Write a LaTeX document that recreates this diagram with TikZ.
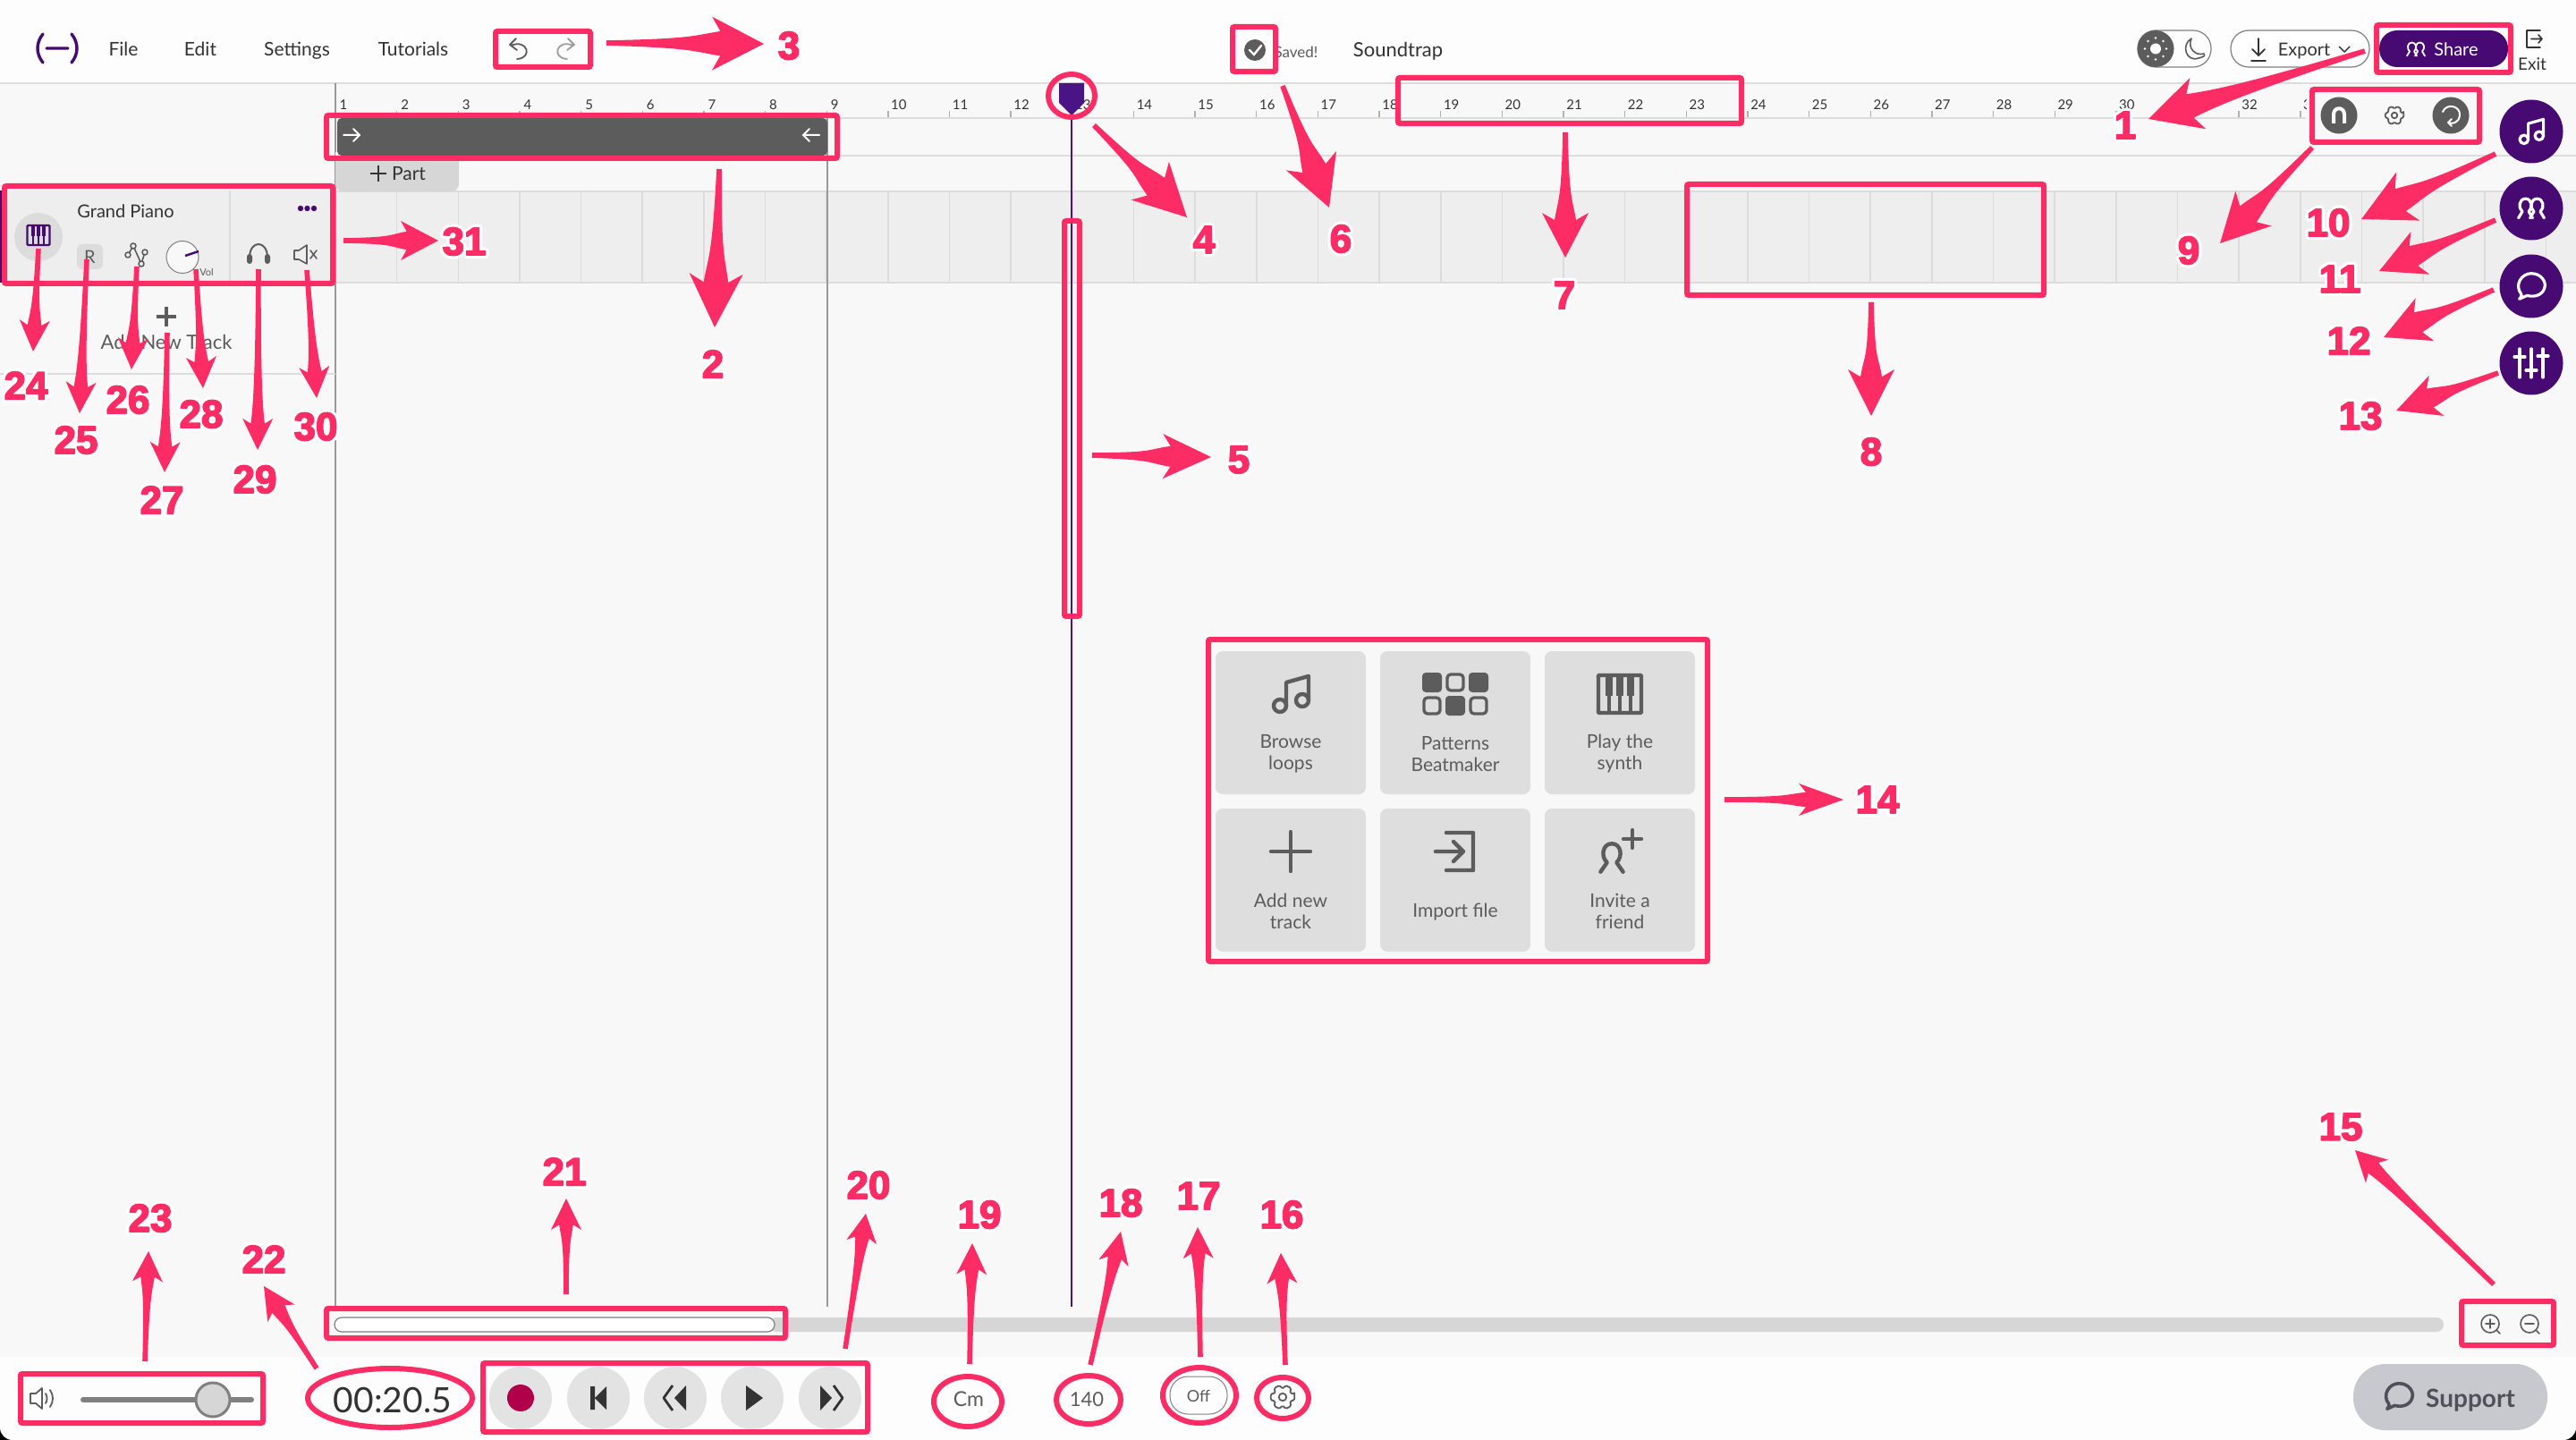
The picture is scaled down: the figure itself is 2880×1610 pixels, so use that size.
\documentclass[tikz,border=0pt]{standalone}
\usepackage{fontspec}
\setmainfont{Lato}
\newfontfamily\numfont{Liberation Sans}
\usetikzlibrary{calc}

\definecolor{markpink}{HTML}{FE2C64}
\definecolor{uigrey}{HTML}{5C5C5C}
\definecolor{uidark}{HTML}{333333}
\definecolor{uipurple}{HTML}{470A73}
\definecolor{headcol}{HTML}{4A1486}
\definecolor{barbg}{HTML}{FDFDFD}
\definecolor{mainbg}{HTML}{F8F8F8}
\definecolor{trackbg}{HTML}{EEEEEE}
\definecolor{gridcol}{HTML}{DCDCDC}
\definecolor{tilebg}{HTML}{DEDEDE}
\definecolor{trackbar}{HTML}{D6D6D6}
\definecolor{reccol}{HTML}{B0004A}
\definecolor{supportbg}{HTML}{C8C9CE}
\definecolor{supportink}{HTML}{4F5158}

\tikzset{
	markbox/.style={draw=markpink,line width=3pt,rounded corners=1pt},
	markoval/.style={draw=markpink,line width=3pt},
	uitext/.style={inner sep=0pt,text=uidark,text height=.72em,text depth=0pt,font=\fontsize{10.5}{12}\selectfont},
	tinytext/.style={inner sep=0pt,text=uidark,text height=.72em,text depth=0pt,font=\fontsize{7.5}{8}\selectfont},
	tiletext/.style={inner sep=0pt,text=uigrey,align=center,font=\fontsize{10.5}{12}\selectfont},
	numtext/.style={inner sep=0pt,text=markpink,font=\numfont\bfseries\fontsize{22}{24}\selectfont},
	tile/.style={fill=tilebg,rounded corners=4pt,minimum width=84pt,minimum height=80pt,inner sep=0pt},
	ico/.style={draw=uigrey,line width=2.2pt,line cap=round,line join=round},
	whiteico/.style={draw=white,line width=1.6pt,line cap=round,line join=round},
	roundbtn/.style={circle,fill=uipurple,minimum size=35.5pt,inner sep=0pt},
	playbtn/.style={circle,fill=tilebg!85!white,minimum size=35pt,inner sep=0pt},
}

% big tapered arrow with its number
\newcommand{\callout}[6]{
	\coordinate (t#1) at #2;
	\coordinate (h#1) at #3;
	\fill[markpink] ($(t#1)!1.4pt!90:(h#1)$)
		.. controls ($(t#1)!.55!(h#1)!.17*#5!90:(h#1)$) and ($(h#1)!1.35*#4!(t#1)!.3*#5!-90:(t#1)$) .. ($(h#1)!.84*#4!(t#1)!.46*#5!-90:(t#1)$)
		-- ($(h#1)!#4!(t#1)!#5!-90:(t#1)$) -- (h#1) -- ($(h#1)!#4!(t#1)!#5!90:(t#1)$) -- ($(h#1)!.84*#4!(t#1)!.46*#5!90:(t#1)$)
		.. controls ($(h#1)!1.35*#4!(t#1)!.3*#5!90:(t#1)$) and ($(t#1)!.55!(h#1)!.17*#5!-90:(h#1)$) .. ($(t#1)!1.4pt!-90:(h#1)$) -- cycle;
	\draw #6 node (num#1) [numtext] {\rlap{\textcolor{white}{\special{pdf:code 2 Tr 4 w 1 j}#1\special{pdf:code 0 Tr}}}\special{pdf:code 2 Tr 0.8 w 1 j}#1\special{pdf:code 0 Tr}};
}
\newcommand{\noteicon}[3]{
	\begin{scope}[shift={#1},scale=#2]
		\draw[#3] (-12,13) circle (7) (13,7) circle (7);
		\draw[#3] (-5,13) -- (-5,-13) -- (20,-20) -- (20,7);
	\end{scope}
}
\newcommand{\pianoicon}[3]{
	\begin{scope}[shift={#1},scale=#2]
		\draw[line width=#2*2.2pt,draw=#3,rounded corners=0.5pt] (-24,-21) rectangle (24,21);
		\foreach \kx in {-12,0,12}{
			\fill[#3] (\kx-4,-21) rectangle (\kx+4,2);
			\draw[line width=#2*2pt,draw=#3] (\kx,0) -- (\kx,21);
		}
	\end{scope}
}
\newcommand{\gearicon}[3]{
	\begin{scope}[shift={#1},scale=#2]
		\draw[#3,rounded corners=0.7pt] (-14:21) \foreach \ga in {0,60,...,300}{ -- (\ga-14:21) -- (\ga+14:21) -- (\ga+30:14.5)} -- cycle;
		\draw[#3] (0,0) circle (6.5);
	\end{scope}
}
\newcommand{\peopleicon}[3]{
	\begin{scope}[shift={#1},scale=#2]
		\foreach \px in {-9,9}{
			\draw[#3] (\px-11,15) -- (\px-5,5) .. controls (\px-12,-1) and (\px-10,-15) .. (\px,-15) .. controls (\px+10,-15) and (\px+12,-1) .. (\px+5,5) -- (\px+11,15);
		}
	\end{scope}
}
\newcommand{\bubbleicon}[3]{
	\begin{scope}[shift={#1},scale=#2]
		\draw[#3] (-14,15) .. controls (-11,11) .. (-12,9) .. controls (-20,-1) and (-12,-15) .. (0,-15) .. controls (12,-15) and (17,-5) .. (16,0) .. controls (15,8) and (7,14) .. (-5,11) -- cycle;
	\end{scope}
}

\begin{document}
\begin{tikzpicture}[x=0.5pt,y=0.5pt,yscale=-1,xscale=1]
	\useasboundingbox (0,0) rectangle (2880,1610);
	% window
	\fill[black] (0,1580) rectangle (30,1610);
	\fill[black] (2850,1580) rectangle (2880,1610);
	\fill[barbg,rounded corners=7pt] (0,0) rectangle (2880,1610);
	\fill[barbg] (0,0) rectangle (2880,100);
	\fill[mainbg] (0,93) rectangle (2880,1517);
	\draw[gridcol,line width=1pt] (0,93) -- (2880,93);
	% track lane and bar lines
	\fill[trackbg] (375,214) rectangle (2880,316);
	\draw[gridcol,line width=0.8pt] (375,214) -- (2880,214) (375,316) -- (2880,316);
	\foreach \n in {1,...,37}{
		\pgfmathsetmacro{\gx}{375+(\n-1)*68.65}
		\draw[gridcol,line width=0.8pt] (\gx,214) -- (\gx,316);
	}
	% ruler
	\begin{scope}
		\clip (370,94) rectangle (2578,134);
		\foreach \n in {1,...,33}{
			\pgfmathsetmacro{\gx}{375+(\n-1)*68.65}
			\pgfmathsetmacro{\lx}{\gx+(\n<10 ? 9 : 12)}
			\draw[gridcol!80!black,line width=0.7pt] (\gx,124) -- (\gx,132);
			\draw (\lx,115) node (bar\n) [tinytext] {\n};
		}
	\end{scope}
	\draw[gridcol,line width=1pt] (375,132) -- (2578,132);
	\draw[gridcol,line width=1pt] (375,174) -- (2880,174);
	\draw[gray!80,line width=0.8pt] (375,93) -- (375,1461);
	\draw[gray!80,line width=0.8pt] (925,132) -- (925,1461);
	% loop bar and part tab
	\fill[trackbar,rounded corners=4pt] (375,170) rectangle (513,214);
	\fill[mainbg] (375,170) rectangle (513,174);
	\fill[uigrey,rounded corners=2.5pt] (377,132) rectangle (925,174);
	\draw[white,line width=1pt,line cap=round] (384,151) -- (402,151) (395,144) -- (402,151) -- (395,158);
	\draw[white,line width=1pt,line cap=round] (916,151) -- (898,151) (905,144) -- (898,151) -- (905,158);
	\draw[uidark,line width=1pt] (414,194) -- (432,194) (423,185) -- (423,203);
	\draw (457,194) node (parttxt) [uitext] {Part};
	% top bar
	\draw[uipurple,line width=1.7pt,line cap=round] (48,38) .. controls (40,48) and (40,60) .. (48,70) (80,38) .. controls (88,48) and (88,60) .. (80,70) (52,54) -- (76,54);
	\draw (138,55) node (fileitem) [uitext] {File};
	\draw (224,55) node (edititem) [uitext] {Edit};
	\draw (332,55) node (settingsitem) [uitext] {Settings};
	\draw (462,55) node (tutorialsitem) [uitext] {Tutorials};
	\draw[ico,line width=0.9pt] (571,51) .. controls (590,43) and (596,65) .. (578,66) (577,43) -- (570,50) -- (578,56);
	\draw[ico,line width=0.9pt,uigrey!60] (641,51) .. controls (622,43) and (616,65) .. (634,66) (635,43) -- (642,50) -- (634,56);
	\fill[uigrey] (1403,56) circle (12);
	\draw[white,line width=1.2pt,line cap=round] (1397,56) -- (1402,61) -- (1410,51);
	\draw (1449,57) node (savedtxt) [tinytext,text=uigrey,font=\fontsize{8.5}{10}\selectfont] {Saved!};
	\draw (1563,56) node (apptitle) [uitext,font=\fontsize{11}{12}\selectfont] {Soundtrap};
	% theme toggle
	\draw[gray,line width=0.6pt,fill=barbg,rounded corners=10pt] (2390,34) rectangle (2472,75);
	\fill[uigrey] (2410,54.5) circle (20.5);
	\fill[white] (2410,54.5) circle (6);
	\foreach \a in {0,45,...,315}{\fill[white] ($(2410,54.5)+(\a:12)$) circle (1.4);}
	\draw[ico,line width=0.8pt] (2450,43) .. controls (2438,50) and (2444,70) .. (2458,65) .. controls (2465,63) .. (2464,60) .. controls (2455,63) and (2445,54) .. (2450,43) -- cycle;
	% export and share
	\draw[gray,line width=0.6pt,fill=white,rounded corners=10pt] (2494,34) rectangle (2649,75);
	\draw[uidark,line width=0.9pt,line cap=round] (2525,43) -- (2525,62) (2518,55) -- (2525,62) -- (2532,55) (2517,68) -- (2533,68);
	\draw (2576,55) node (exporttxt) [uitext,font=\fontsize{10}{12}\selectfont] {Export};
	\draw[uidark,line width=0.7pt] (2615,52) -- (2621,58) -- (2627,52);
	\fill[uipurple,rounded corners=10pt] (2660,34) rectangle (2804,75);
	\peopleicon{(2701,55)}{0.5}{whiteico,line width=0.9pt}
	\draw (2746,55) node (sharetxt) [uitext,text=white,font=\fontsize{10}{12}\selectfont] {Share};
	\draw[ico,line width=0.8pt,uidark] (2840,34) -- (2825,34) -- (2825,53) -- (2840,53) (2830,43.5) -- (2842,43.5) (2838,39) -- (2842,43.5) -- (2838,48);
	\draw (2831,71) node (exittxt) [uitext,font=\fontsize{9.5}{11}\selectfont] {Exit};
	% snap panel
	\fill[uigrey] (2615,129) circle (20.5);
	\draw[whiteico,line width=2pt,line cap=butt] (2609,138) -- (2609,128) .. controls (2609,119) and (2621,119) .. (2621,128) -- (2621,138);
	\gearicon{(2677,129)}{0.5}{ico,line width=0.9pt}
	\fill[uigrey] (2740,129) circle (20.5);
	\draw[whiteico,line width=1pt] (2731,125) .. controls (2735,115) and (2751,118) .. (2750,129) .. controls (2749,138) and (2741,139) .. (2737,137) (2741,133) -- (2737,137) -- (2741,141);
	% side buttons
	\node (loopsbtn) [roundbtn] at (2830,147) {};
	\node (peoplebtn) [roundbtn] at (2830,233) {};
	\node (chatbtn) [roundbtn] at (2830,320) {};
	\node (mixbtn) [roundbtn] at (2830,406) {};
	\noteicon{(loopsbtn)}{0.68}{whiteico}
	\peopleicon{(peoplebtn)}{0.72}{whiteico}
	\bubbleicon{(chatbtn)}{0.95}{whiteico}
	\draw[whiteico] (2817,390) -- (2817,422) (2830,390) -- (2830,422) (2843,390) -- (2843,422) (2811,399) -- (2823,399) (2824,414) -- (2836,414) (2837,398) -- (2849,398);
	% track header
	\fill[uipurple] (0,213) rectangle (2,316);
	\fill[trackbg] (3,213) rectangle (372,316);
	\draw[gridcol,line width=0.8pt] (257,213) -- (257,316);
	\fill[gridcol] (43,265) circle (27);
	\pianoicon{(43,263)}{0.52}{uipurple}
	\draw (140.5,236) node (trackname) [uitext,font=\fontsize{10}{11}\selectfont] {Grand Piano};
	\fill[uipurple] (336,233) circle (3.2) (343.5,233) circle (3.2) (351,233) circle (3.2);
	\fill[gridcol,rounded corners=3pt] (86,273) rectangle (115,301);
	\draw (100.5,287) node (recbtn) [uitext,text=uigrey,font=\fontsize{10}{11}\selectfont] {R};
	\draw[ico,line width=0.8pt] (143,285) -- (149,275) -- (158,295) -- (162,282);
	\foreach \ax/\ay in {143/285,149/275,158/295,162/282}{\draw[ico,line width=0.8pt,fill=trackbg] (\ax,\ay) circle (3);}
	\draw[gray,line width=0.5pt,fill=mainbg] (204,287.5) circle (18);
	\draw[uipurple,line width=1.2pt] (207,286) -- (222,281);
	\draw (231,301) node (voltxt) [tinytext,text=uigrey,font=\fontsize{5.5}{6}\selectfont] {Vol};
	\draw[ico,line width=1pt] (279,288) .. controls (279,268) and (299,268) .. (299,288);
	\fill[uigrey,rounded corners=1.5pt] (276,284) rectangle (282,295) (296,284) rectangle (302,295);
	\draw[ico,line width=0.8pt] (329,280) -- (334,280) -- (343,274) -- (343,295) -- (334,290) -- (329,290) -- cycle;
	\draw[ico,line width=0.8pt] (347,280) -- (354,289) (354,280) -- (347,289);
	\draw[uigrey,line width=2.4pt] (175,354) -- (197,354) (186,343) -- (186,365);
	\draw (186,383) node (addtrack) [uitext,text=uigrey,font=\fontsize{11}{13}\selectfont] {Add New Track};
	\draw[gridcol,line width=0.8pt] (0,418) -- (375,418);
	% start tiles
	\node (tbrowse) [tile] at (1443,808) {};
	\node (tpatterns) [tile] at (1627,808) {};
	\node (tsynth) [tile] at (1811,808) {};
	\node (tadd) [tile] at (1443,984) {};
	\node (timport) [tile] at (1627,984) {};
	\node (tinvite) [tile] at (1811,984) {};
	\draw (1443,843) node (browsetxt) [tiletext] {Browse\\loops};
	\draw (1627,843) node (patternstxt) [tiletext] {Patterns\\Beatmaker};
	\draw (1811,843) node (synthtxt) [tiletext] {Play the\\synth};
	\draw (1443,1019) node (addtxt) [tiletext] {Add new\\track};
	\draw (1627,1020) node (importtxt) [tiletext] {Import file};
	\draw (1811,1019) node (invitetxt) [tiletext] {Invite a\\friend};
	\noteicon{(1443,776)}{1}{ico}
	\foreach \qx/\qy/\qf in {1590/752/1,1616/752/0,1642/752/1,1590/778/0,1616/778/1,1642/778/0}{
		\ifnum\qf=1
			\fill[uigrey,rounded corners=2pt] (\qx,\qy) rectangle ++(22,22);
		\else
			\draw[ico,rounded corners=2pt,line width=1.7pt] (\qx+2,\qy+2) rectangle ++(18,18);
		\fi
	}
	\pianoicon{(1811,776)}{1}{uigrey}
	\draw[ico] (1421,952) -- (1465,952) (1443,930) -- (1443,974);
	\draw[ico] (1605,952) -- (1636,952) (1625,941) -- (1636,952) -- (1625,963) (1617,931) -- (1647,931) -- (1647,973) -- (1617,973);
	\begin{scope}[shift={(1802,959)},scale=1.05]
		\draw[ico] (-12,15) -- (-5,5) .. controls (-12,-1) and (-10,-15) .. (0,-15) .. controls (10,-15) and (12,-1) .. (5,5) -- (12,15);
	\end{scope}
	\draw[ico] (1815,938) -- (1835,938) (1825,928) -- (1825,948);
	% playhead
	\draw[headcol,line width=1.4pt] (1198,129) -- (1198,1461);
	\fill[headcol] (1184,93) -- (1212,93) -- (1212,115) -- (1198,129) -- (1184,115) -- cycle;
	% transport
	\draw[ico,line width=0.9pt,fill=none] (34,1558) -- (40,1558) -- (47,1552) -- (47,1575) -- (40,1569) -- (34,1569) -- cycle (51,1558) .. controls (53,1561) and (53,1566) .. (51,1569) (56,1554) .. controls (60,1560) and (60,1567) .. (56,1573);
	\draw[gray,line width=3pt,line cap=round] (93,1565) -- (281,1565);
	\draw[gray,line width=1.5pt,fill=trackbar] (238,1565) circle (19);
	\draw (439,1565) node (timetxt) [inner sep=0pt,text=uidark,text height=14pt,text depth=0pt,font=\fontsize{19.5}{22}\selectfont] {00:20.5};
	\node (recb) [playbtn] at (582,1563) {};
	\node (startb) [playbtn] at (669,1563) {};
	\node (rewb) [playbtn] at (755,1563) {};
	\node (playb) [playbtn] at (841,1563) {};
	\node (fwdb) [playbtn] at (928,1563) {};
	\fill[reccol] (582,1563) circle (15);
	\fill[uidark] (660,1550) rectangle (665,1576) (678,1550) -- (665,1563) -- (678,1576) -- cycle;
	\draw[uidark,line width=1.4pt,line join=round] (752,1549) -- (742,1563) -- (752,1577);
	\fill[uidark] (767,1549) -- (767,1577) -- (754,1563) -- cycle;
	\fill[uidark] (834,1549) -- (853,1563) -- (834,1577) -- cycle;
	\fill[uidark] (917,1549) -- (930,1563) -- (917,1577) -- cycle;
	\draw[uidark,line width=1.4pt,line join=round] (932,1549) -- (942,1563) -- (932,1577);
	\draw (1083,1565) node (keytxt) [uitext,text=uigrey,font=\fontsize{11.5}{12}\selectfont] {Cm};
	\draw (1215,1565) node (tempotxt) [uitext,text=uigrey,font=\fontsize{11}{12}\selectfont] {140};
	\draw[gray,line width=0.5pt,rounded corners=10pt] (1308,1539) rectangle (1372,1581);
	\draw (1340,1560) node (offtxt) [uitext,text=uigrey,font=\fontsize{9}{10}\selectfont] {Off};
	\gearicon{(1434,1562)}{0.65}{ico,line width=0.9pt}
	% scroll bar and zoom
	\fill[trackbar,rounded corners=4pt] (860,1473) rectangle (2732,1489);
	\draw[gray,line width=0.6pt,fill=white,rounded corners=4pt] (374,1473) rectangle (866,1489);
	\draw[ico,line width=0.8pt] (2784,1480) circle (10) (2779,1480) -- (2789,1480) (2784,1475) -- (2784,1485) (2791,1487) -- (2795,1491);
	\draw[ico,line width=0.8pt] (2828,1480) circle (10) (2823,1480) -- (2833,1480) (2835,1487) -- (2839,1491);
	\fill[supportbg,rounded corners=18pt] (2631,1525) rectangle (2848,1599);
	\bubbleicon{(2682,1561)}{0.95}{ico,line width=1.8pt,draw=supportink}
	\draw (2762,1563) node (supporttxt) [inner sep=0pt,text=supportink,text height=10pt,text depth=0pt,font=\fontsize{14}{16}\selectfont\bfseries] {Support};
	% pink boxes
	\draw[markbox] (554,35) rectangle (660,75);
	\draw[markbox] (365,129) rectangle (936,177);
	\draw[markbox] (5,208) rectangle (372,317);
	\draw[markbox] (1378,30) rectangle (1426,80);
	\draw[markbox] (1563,87) rectangle (1947,138);
	\draw[markbox] (1886,206) rectangle (2285,330);
	\draw[markbox] (2657,28) rectangle (2807,81);
	\draw[markbox] (2585,100) rectangle (2772,159);
	\draw[markbox] (1190,247) rectangle (1207,689);
	\draw[markbox] (1351,715) rectangle (1909,1075);
	\draw[markbox] (23,1536) rectangle (294,1591);
	\draw[markbox] (540,1524) rectangle (970,1601);
	\draw[markbox] (365,1463) rectangle (878,1496);
	\draw[markbox] (2752,1455) rectangle (2855,1504);
	\draw[markoval] (1198,107) ellipse (26 and 24);
	\draw[markoval] (436,1563) ellipse (92 and 33);
	\draw[markoval] (1082,1567) ellipse (38 and 28);
	\draw[markoval] (1217,1565) ellipse (36 and 27);
	\draw[markoval] (1341,1560) ellipse (41 and 31);
	\draw[markoval] (1434,1563) ellipse (29 and 23);
	% arrows and numbers
	\callout{1}{(2644,57)}{(2402,133)}{29pt}{15pt}{(2376,140)}
	\callout{2}{(804,189)}{(799,366)}{30pt}{15pt}{(797,407)}
	\callout{3}{(678,48)}{(854,49)}{29pt}{15pt}{(882,51)}
	\callout{4}{(1223,140)}{(1327,243)}{29pt}{15pt}{(1346,268)}
	\callout{5}{(1221,509)}{(1354,511)}{27pt}{12.5pt}{(1385,514)}
	\callout{6}{(1434,96)}{(1486,232)}{28pt}{15pt}{(1499,267)}
	\callout{7}{(1750,148)}{(1750,288)}{25pt}{13pt}{(1749,330)}
	\callout{8}{(2092,338)}{(2092,465)}{26pt}{13pt}{(2092,505)}
	\callout{9}{(2585,165)}{(2482,272)}{27pt}{14pt}{(2447,280)}
	\callout{10}{(2790,172)}{(2640,245)}{29pt}{15pt}{(2603,249)}
	\callout{11}{(2790,246)}{(2660,303)}{25pt}{13pt}{(2616,312)}
	\callout{12}{(2788,324)}{(2665,377)}{25pt}{13pt}{(2626,381)}
	\callout{13}{(2793,417)}{(2679,459)}{24pt}{12pt}{(2639,465)}
	\callout{14}{(1928,894)}{(2061,894)}{25pt}{9pt}{(2099,894)}
	\callout{15}{(2788,1436)}{(2633,1286)}{17pt}{9pt}{(2617,1260)}
	\callout{16}{(1437,1526)}{(1432,1401)}{17pt}{8.5pt}{(1433,1358)}
	\callout{17}{(1342,1517)}{(1339,1372)}{17.5pt}{8.5pt}{(1340,1337)}
	\callout{18}{(1219,1526)}{(1253,1377)}{18pt}{8.5pt}{(1253,1345)}
	\callout{19}{(1084,1525)}{(1087,1390)}{17.5pt}{8.5pt}{(1095,1358)}
	\callout{20}{(945,1508)}{(968,1357)}{16pt}{8.5pt}{(971,1325)}
	\callout{21}{(633,1447)}{(633,1340)}{17.5pt}{8.5pt}{(631,1310)}
	\callout{22}{(354,1530)}{(295,1438)}{18pt}{9pt}{(295,1408)}
	\callout{23}{(162,1522)}{(166,1399)}{17pt}{8.5pt}{(168,1362)}
	\callout{24}{(43,278)}{(37,393)}{17.5pt}{8.5pt}{(29,431)}
	\callout{25}{(97,290)}{(89,462)}{17.5pt}{8.5pt}{(85,492)}
	\callout{26}{(153,298)}{(147,413)}{17.5pt}{8.5pt}{(143,447)}
	\callout{27}{(187,372)}{(184,528)}{17pt}{8.5pt}{(181,559)}
	\callout{28}{(219,301)}{(227,434)}{17.5pt}{8.5pt}{(225,463)}
	\callout{29}{(289,301)}{(288,503)}{17.5pt}{8.5pt}{(285,536)}
	\callout{30}{(343,302)}{(354,445)}{17.5pt}{8.5pt}{(353,477)}
	\callout{31}{(384,269)}{(490,269)}{21pt}{11pt}{(519,270)}
\end{tikzpicture}
\end{document}
